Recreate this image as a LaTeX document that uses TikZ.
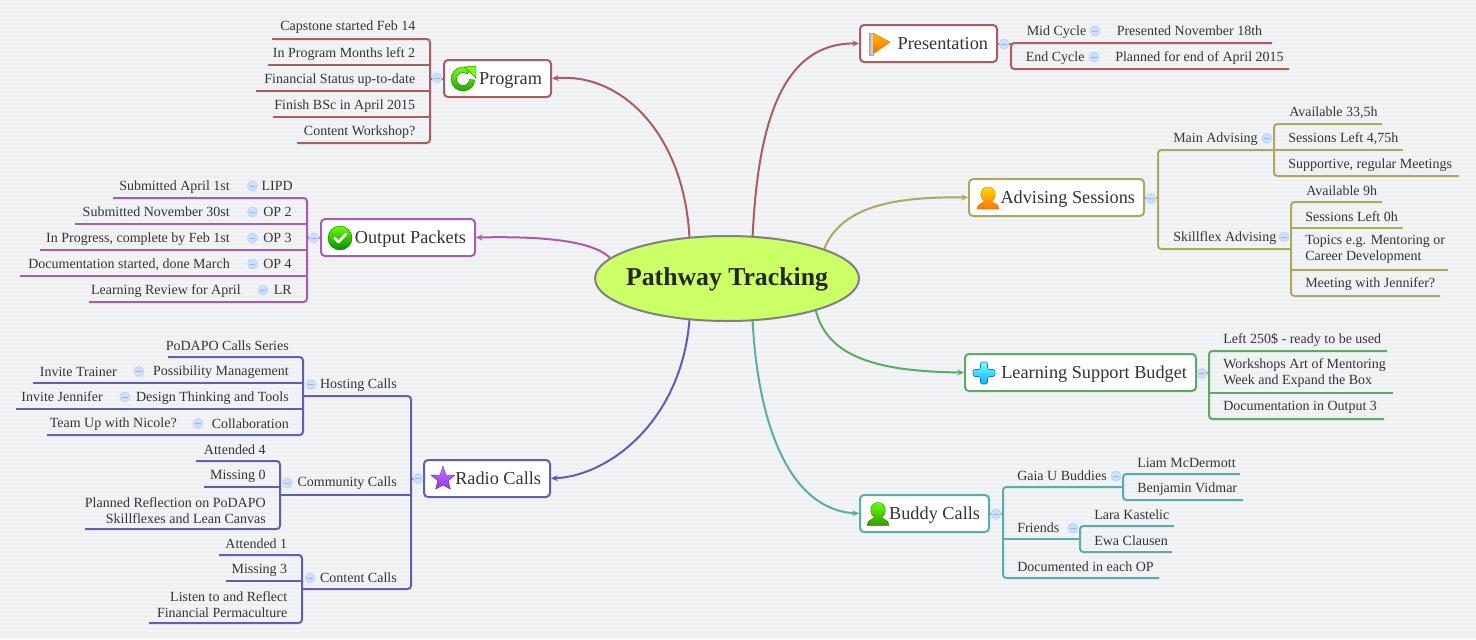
\documentclass[tikz,border=0pt]{standalone}
\usepackage{fontspec}
\setmainfont{Liberation Serif}
\usetikzlibrary{arrows.meta,shapes.geometric,backgrounds}
\definecolor{bgc}{HTML}{EFF0F4}
\definecolor{txt}{HTML}{333338}
\definecolor{cR}{HTML}{AB5C60}
\definecolor{cP}{HTML}{AA5CAC}
\definecolor{cB}{HTML}{5F5FB2}
\definecolor{cT}{HTML}{5CABA9}
\definecolor{cG}{HTML}{5CAB64}
\definecolor{cY}{HTML}{ABA95C}
\definecolor{colb}{HTML}{BFD4F6}
\definecolor{colf}{HTML}{CEDFFA}
\definecolor{colm}{HTML}{98B4E6}
\tikzset{
  lf/.style={font=\fontsize{10.5}{12}\selectfont, text=txt, inner sep=0pt, text height=7.5pt, text depth=1.5pt},
  tl/.style={lf, anchor=east},
  tr/.style={lf, anchor=west},
  ml/.style={font=\fontsize{10.5}{12}\selectfont, text=txt, inner sep=0pt, anchor=east, align=flush right},
  mr/.style={font=\fontsize{10.5}{12}\selectfont, text=txt, inner sep=0pt, anchor=west, align=flush left},
  col/.style={circle, draw=colb, fill=colf, line width=.6pt, minimum size=7.5pt, inner sep=0pt,
    path picture={\draw[colm, line width=.7pt] ([xshift=-2.2pt]path picture bounding box.center) -- ([xshift=2.2pt]path picture bounding box.center);}},
  topic/.style={draw, fill=white, line width=1.5pt, rounded corners=3pt, minimum height=27.75pt, inner xsep=6.75pt, inner ysep=0pt,
    align=flush right, text=txt, font=\fontsize{13.7}{16}\selectfont, text height=10.5pt, text depth=2pt, anchor=center},
  root/.style={ellipse, draw=gray, fill={rgb,255:red,204;green,255;blue,102}, line width=1.5pt, minimum width=198pt, minimum height=63.75pt, inner xsep=-7.5pt, inner ysep=0pt,
    text=black!85, font=\fontsize{19.3}{21}\selectfont\bfseries, text height=12pt, text depth=2.2pt},
  br/.style={line width=1.5pt, rounded corners=2.5pt},
  st/.style={line width=1.5pt},
  link/.style={line width=1.5pt, -{Stealth[length=5pt,width=4.5pt]}},
}
\begin{document}
\begin{tikzpicture}[x=.75pt,y=-.75pt]
\useasboundingbox (0,0) rectangle (1476,639);
% ---------- central and main topics
\node[root] (root) at (727,278.5) {Pathway Tracking};
\node[topic,draw=cR,text width=66.75pt] (prog) at (497.5,78.5) {Program};
\node[topic,draw=cR,text width=89.25pt] (pres) at (928.5,43.5) {Presentation};
\node[topic,draw=cP,text width=102pt] (outp) at (398,237.5) {Output Packets};
\node[topic,draw=cY,text width=117.75pt] (advi) at (1056.5,197.5) {Advising Sessions};
\node[topic,draw=cG,text width=159.75pt] (lsb) at (1080.5,372.5) {Learning Support Budget};
\node[topic,draw=cT,text width=83.25pt] (budd) at (924.5,513.5) {Buddy Calls};
\node[topic,draw=cB,text width=81pt] (radi) at (487,478.5) {Radio Calls};
% ---------- collapse markers
\node[col] (cprog) at (437,78) {};
\node[col] (cpres) at (1004,44) {};
\node[col] (coutp) at (314,238) {};
\node[col] (cadvi) at (1151,198.5) {};
\node[col] (clsb) at (1202,373.5) {};
\node[col] (cbudd) at (996,514) {};
\node[col] (cradi) at (418,478.5) {};
\node[col] (cmid) at (1095,31) {};
\node[col] (cend) at (1094,57) {};
\node[col] (cmain) at (1267,138.5) {};
\node[col] (cskil) at (1284,237) {};
\node[col] (cgaia) at (1116,476) {};
\node[col] (cfrie) at (1073,528) {};
\node[col] (clipd) at (252.5,186) {};
\node[col] (cop2) at (252.5,212) {};
\node[col] (cop3) at (252.5,238) {};
\node[col] (cop4) at (252.5,264) {};
\node[col] (clr) at (263,290) {};
\node[col] (chost) at (311,384.5) {};
\node[col] (cposs) at (139,371.5) {};
\node[col] (cdesi) at (125,397) {};
\node[col] (ccoll) at (198,423.5) {};
\node[col] (ccomm) at (287.5,483) {};
\node[col] (ccont) at (310,578) {};
% ---------- Program
\node[tl] (p1) at (415.5,27) {Capstone started Feb 14};
\node[tl] (p2) at (415.5,53) {In Program Months left 2};
\node[tl] (p3) at (415.5,79) {Financial Status up-to-date};
\node[tl] (p4) at (415.5,105) {Finish BSc in April 2015};
\node[tl] (p5) at (415.5,131) {Content Workshop?};
% ---------- Presentation
\node[tr] (q1) at (1026.5,31) {Mid Cycle};
\node[tr] (q1a) at (1116.5,32) {Presented November 18th};
\node[tr] (q2) at (1025.5,57) {End Cycle};
\node[tr] (q2a) at (1115,57) {Planned for end of April 2015};
% ---------- Output packets
\node[tl] (o1) at (293,186) {LIPD};
\node[tl] (o1a) at (230,186) {Submitted April 1st};
\node[tl] (o2) at (292,212) {OP 2};
\node[tl] (o2a) at (230,212) {Submitted November 30st};
\node[tl] (o3) at (292,238) {OP 3};
\node[tl] (o3a) at (230,238) {In Progress, complete by Feb 1st};
\node[tl] (o4) at (292,264) {OP 4};
\node[tl] (o4a) at (230,264) {Documentation started, done March};
\node[tl] (o5) at (292,290) {LR};
\node[tl] (o5a) at (241,290) {Learning Review for April};
% ---------- Advising
\node[tr] (a1) at (1173,138) {Main Advising};
\node[tr] (a11) at (1289,112) {Available 33,5h};
\node[tr] (a12) at (1288,138) {Sessions Left 4,75h};
\node[tr] (a13) at (1288,164) {Supportive, regular Meetings};
\node[tr] (a2) at (1173,237) {Skillflex Advising};
\node[tr] (a21) at (1306,191) {Available 9h};
\node[tr] (a22) at (1305,217) {Sessions Left 0h};
\node[mr] (a23) at (1305,249.5) {Topics e.g. Mentoring or\\Career Development};
\node[tr] (a24) at (1305,283) {Meeting with Jennifer?};
% ---------- Learning support budget
\node[tr] (l1) at (1223,339) {Left 250\$ - ready to be used};
\node[mr] (l2) at (1223,373) {Workshops Art of Mentoring\\Week and Expand the Box};
\node[tr] (l3) at (1223,406) {Documentation in Output 3};
% ---------- Buddy calls
\node[tr] (b1) at (1017,476) {Gaia U Buddies};
\node[tr] (b11) at (1137,463) {Liam McDermott};
\node[tr] (b12) at (1137,488) {Benjamin Vidmar};
\node[tr] (b2) at (1017,528) {Friends};
\node[tr] (b21) at (1094,515) {Lara Kastelic};
\node[tr] (b22) at (1094,541) {Ewa Clausen};
\node[tr] (b3) at (1017,567) {Documented in each OP};
% ---------- Radio calls
\node[tl] (r1) at (397,384) {Hosting Calls};
\node[tl] (r11) at (289,346) {PoDAPO Calls Series};
\node[tl] (r12) at (289,371) {Possibility Management};
\node[tl] (r12a) at (117,372) {Invite Trainer};
\node[tl] (r13) at (289,397) {Design Thinking and Tools};
\node[tl] (r13a) at (103,397) {Invite Jennifer};
\node[tl] (r14) at (289,424) {Collaboration};
\node[tl] (r14a) at (177,423) {Team Up with Nicole?};
\node[tl] (r2) at (397,482.5) {Community Calls};
\node[tl] (r21) at (266,450) {Attended 4};
\node[tl] (r22) at (266,475) {Missing 0};
\node[ml] (r23) at (266,510.5) {Planned Reflection on PoDAPO\\Skillflexes and Lean Canvas};
\node[tl] (r3) at (397,578) {Content Calls};
\node[tl] (r31) at (287.5,544) {Attended 1};
\node[tl] (r32) at (287.5,569) {Missing 3};
\node[ml] (r33) at (287.5,604.5) {Listen to and Reflect\\Financial Permaculture};
% ---------- underline ends and bracket spines
\foreach \n/\x/\y in {
  pb/430/78, pe1/272/39, pe2/268/65, pe3/256/91, pe4/273/117, pe5/297/143,
  qb/1011/44, qe1/1272/43, qe2/1289/69,
  ob/307/238, oe1/113/198, oe2/75/224, oe3/40/250, oe4/20/276, oe5/89/302,
  ab/1158/198, ae1/1274/150, ae2/1291/249,
  am1/1382/124, am2/1403/150, am3/1459/176,
  as1/1382/202, as2/1403/228, as3/1448/270, as4/1440/296,
  lb/1209/373, le1/1387/351, le2/1393/393, le3/1384/419,
  ub/1003/514, ue1/1123/487, ue2/1080/539, ue3/1159/578,
  ug1/1240/474, ug2/1243/500, uf1/1174/526, uf2/1172/552,
  rb/411/478, re1/303/396, re2/280/495, re3/302/589,
  rh1/168/357, rh2/33/383, rh3/16/409, rh4/47/435,
  rc1/196/461, rc2/204/487, rc3/85/529,
  rn1/219/555, rn2/226/581, rn3/149/623}
  {\coordinate (\n) at (\x,\y);}
\begin{scope}[on background layer]
\fill[bgc] (0,0) rectangle (1476,639);
\foreach \yy in {2,6,...,638} \draw[white!40!bgc, line width=.7pt] (0,\yy) -- (1476,\yy);
% links from the root
\draw[link,cR] (root.132) .. controls +(-6,-105) and +(68,-6) .. (prog.east);
\draw[link,cR] (root.59) .. controls +(5,-105) and +(-80,-1) .. (pres.west);
\draw[link,cP] (root.170.8) .. controls +(-20,-20) and +(50,-1) .. (outp.east);
\draw[link,cY] (root.17.6) .. controls +(18,-44) and +(-70,-1) .. (advi.west);
\draw[link,cG] (root.-20.5) .. controls +(12,47) and +(-85,-1) .. (lsb.west);
\draw[link,cT] (root.-59) .. controls +(5,98) and +(-72,-4) .. (budd.west);
\draw[link,cB] (root.-132) .. controls +(-8,99) and +(60,-3) .. (radi.east);
% Program
\begin{scope}[draw=cR,color=cR]
\draw[st] (prog.west) -- (prog.west -| pb);
\draw[br] (pe1) -- (pe1 -| pb) -- (pe5 -| pb) -- (pe5);
\foreach \e in {pe2,pe3,pe4} \draw[st] (\e) -- (\e -| pb);
% Presentation
\draw[st] (pres.east) -- (pres.east -| qb);
\draw[br] (qe1) -- (qe1 -| qb) -- (qe2 -| qb) -- (qe2);
\end{scope}
% Output
\begin{scope}[draw=cP]
\draw[st] (outp.west) -- (outp.west -| ob);
\draw[br] (oe1) -- (oe1 -| ob) -- (oe5 -| ob) -- (oe5);
\foreach \e in {oe2,oe3,oe4} \draw[st] (\e) -- (\e -| ob);
\end{scope}
% Advising
\begin{scope}[draw=cY]
\draw[st] (advi.east) -- (advi.east -| ab);
\draw[br] (ae1) -- (ae1 -| ab) -- (ae2 -| ab) -- (ae2);
\draw[st] (ae1) -- (am2);
\draw[br] (am1) -- (am1 -| ae1) -- (am3 -| ae1) -- (am3);
\draw[br] (as1) -- (as1 -| ae2) -- (as4 -| ae2) -- (as4);
\foreach \e in {as2,as3} \draw[st] (\e) -- (\e -| ae2);
\end{scope}
% Learning
\begin{scope}[draw=cG]
\draw[st] (lsb.east) -- (lsb.east -| lb);
\draw[br] (le1) -- (le1 -| lb) -- (le3 -| lb) -- (le3);
\draw[st] (le2) -- (le2 -| lb);
\end{scope}
% Buddy
\begin{scope}[draw=cT]
\draw[st] (budd.east) -- (budd.east -| ub);
\draw[br] (ue1) -- (ue1 -| ub) -- (ue3 -| ub) -- (ue3);
\draw[st] (ue2) -- (ue2 -| ub);
\draw[br] (ug1) -- (ug1 -| ue1) -- (ug2 -| ue1) -- (ug2);
\draw[br] (uf1) -- (uf1 -| ue2) -- (uf2 -| ue2) -- (uf2);
\end{scope}
% Radio
\begin{scope}[draw=cB]
\draw[st] (radi.west) -- (radi.west -| rb);
\draw[br] (re1) -- (re1 -| rb) -- (re3 -| rb) -- (re3);
\draw[st] (re2) -- (re2 -| rb);
\draw[br] (rh1) -- (rh1 -| re1) -- (rh4 -| re1) -- (rh4);
\foreach \e in {rh2,rh3} \draw[st] (\e) -- (\e -| re1);
\draw[br] (rc1) -- (rc1 -| re2) -- (rc3 -| re2) -- (rc3);
\draw[st] (rc2) -- (rc2 -| re2);
\draw[br] (rn1) -- (rn1 -| re3) -- (rn3 -| re3) -- (rn3);
\draw[st] (rn2) -- (rn2 -| re3);
\end{scope}
\end{scope}
% ---------- icons (local y points up)
% refresh
\begin{scope}[shift={(463,79)},yscale=-1]
\path[top color=green!55!yellow!90!white,bottom color=green!55!black!85!yellow,draw=green!50!black,line width=.3pt]
  (50:12) arc[start angle=50,end angle=355,radius=12] -- (-5:6.5) arc[start angle=355,end angle=50,radius=6.5] -- cycle;
\path[fill=green!50!yellow,draw=green!45!black,line width=.3pt] (13,13) -- (13,1) -- (1.5,12) -- cycle;
\end{scope}
% flag
\begin{scope}[shift={(880,44)},yscale=-1]
\path[left color=gray!60,right color=gray!15,draw=gray!70,line width=.3pt] (-10.5,11) rectangle (-7,-11);
\path[top color=orange!55!yellow,bottom color=orange!85!red,draw=orange!80!red,line width=.3pt] (-7,11) -- (10,2) -- (-7,-10) -- cycle;
\end{scope}
% orange person
\begin{scope}[shift={(988,198)},yscale=-1]
\path[top color=yellow!70!orange,bottom color=orange!90!red,draw=orange!80!black,line width=.2pt] (0,11)
  .. controls (-9,11) and (-9,-1) .. (-3.5,-3) .. controls (-5,-6) and (-11,-5) .. (-11,-11) -- (11,-11)
  .. controls (11,-5) and (5,-6) .. (3.5,-3) .. controls (9,-1) and (9,11) .. (0,11) -- cycle;
\end{scope}
% green person
\begin{scope}[shift={(878,514)},yscale=-1]
\path[top color=green!60!yellow,bottom color=green!50!black!80!yellow,draw=green!45!black,line width=.2pt] (0,11.5)
  .. controls (-9,11.5) and (-9,-1) .. (-3.5,-3) .. controls (-5,-6) and (-11,-5) .. (-11,-11.5) -- (11,-11.5)
  .. controls (11,-5) and (5,-6) .. (3.5,-3) .. controls (9,-1) and (9,11.5) .. (0,11.5) -- cycle;
\end{scope}
% check
\begin{scope}[shift={(340,238)},yscale=-1]
\path[top color=green!60!yellow,bottom color=green!55!black,draw=green!45!black,line width=.3pt] (0,0) circle[radius=12];
\draw[white,line width=2pt,line cap=round,line join=round] (-5.5,0) -- (-1.5,-4) -- (6,4);
\end{scope}
% star
\definecolor{stt}{HTML}{C277FF}
\definecolor{stb}{HTML}{9233E6}
\begin{scope}[shift={(443,479)},yscale=-1]
\path[top color=stt,bottom color=stb,draw=stb!80!black,line width=.3pt]
  (90:13) -- (126:5) -- (162:12.5) -- (198:5.5) -- (234:12.5) -- (270:6) -- (306:12.5) -- (342:5.5) -- (18:12.5) -- (54:5) -- cycle;
\end{scope}
% plus
\begin{scope}[shift={(984,373)},yscale=-1]
\path[top color=cyan!50,bottom color=cyan!70!blue,draw=cyan!50!blue,line width=.4pt,rounded corners=1.5pt]
  (-3.5,11) -- (3.5,11) -- (3.5,3.5) -- (11,3.5) -- (11,-3.5) -- (3.5,-3.5) -- (3.5,-11) -- (-3.5,-11) -- (-3.5,-3.5) -- (-11,-3.5) -- (-11,3.5) -- (-3.5,3.5) -- cycle;
\end{scope}
\end{tikzpicture}
\end{document}
